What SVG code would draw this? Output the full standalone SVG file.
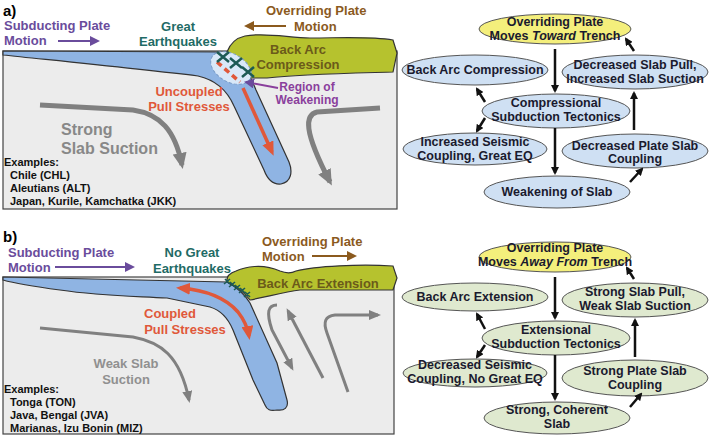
<svg xmlns="http://www.w3.org/2000/svg" width="709" height="437" viewBox="0 0 709 437">
<defs>
<style>
text{font-family:"Liberation Sans",Arial,sans-serif;font-weight:bold}
.fc{font-size:12.5px;fill:#1a1a2e;text-anchor:middle}
.box{fill:#ececec;stroke:#444;stroke-width:1.2}
.slab{fill:#8fb4e3;stroke:#333;stroke-width:1.2}
.over{fill:#b6c22e;stroke:#333;stroke-width:1.2}
.eb{fill:#cfe0f3;stroke:#555;stroke-width:1}
.eg{fill:#dfe9cf;stroke:#555;stroke-width:1}
.ey{fill:#f4ef7c;stroke:#555;stroke-width:1}
.fa{stroke:#111;stroke-width:2.5;fill:none;marker-end:url(#ak)}
.pur{fill:#6a4c9c;font-size:13px}
.teal{fill:#1f6b66;font-size:13px;text-anchor:middle}
.brn{fill:#8b5a1e;font-size:13px}
.olv{fill:#6b5a1a;font-size:13px;text-anchor:middle}
.red{fill:#e0583a;font-size:13px;text-anchor:middle}
.ex{fill:#111;font-size:11px}
.x{stroke:#1d5a55;stroke-width:2.5}
</style>
<marker id="ak" markerWidth="8" markerHeight="8" refX="6" refY="4" orient="auto" markerUnits="userSpaceOnUse"><path d="M0,0 L8,4 L0,8 Z" fill="#111"/></marker>
<marker id="ap" markerWidth="10" markerHeight="10" refX="8" refY="5" orient="auto" markerUnits="userSpaceOnUse"><path d="M0,0 L10,5 L0,10 Z" fill="#6a4c9c"/></marker>
<marker id="ab" markerWidth="10" markerHeight="10" refX="8" refY="5" orient="auto" markerUnits="userSpaceOnUse"><path d="M0,0 L10,5 L0,10 Z" fill="#8b5a1e"/></marker>
<marker id="ar" markerWidth="14" markerHeight="12" refX="10" refY="6" orient="auto" markerUnits="userSpaceOnUse"><path d="M0,0 L14,6 L0,12 Z" fill="#e0583a"/></marker>
<marker id="ars" markerWidth="14" markerHeight="12" refX="4" refY="6" orient="auto" markerUnits="userSpaceOnUse"><path d="M14,0 L0,6 L14,12 Z" fill="#e0583a"/></marker>
<marker id="ag" markerWidth="16" markerHeight="14" refX="12" refY="7" orient="auto" markerUnits="userSpaceOnUse"><path d="M0,0 L16,7 L0,14 Z" fill="#808080"/></marker>
<marker id="ag2" markerWidth="12" markerHeight="10" refX="9" refY="5" orient="auto" markerUnits="userSpaceOnUse"><path d="M0,0 L12,5 L0,10 Z" fill="#808080"/></marker>
</defs>

<g id="panel-a">
<rect class="box" x="3" y="51" width="394" height="158"/>
<path class="slab" d="M3,51 L227,52 C240,60 249,72 256,90 L289,162 C293,172 291,182 281,184 C272,185 267,178 264,170 L234,106 C227,90 216,80 198,76 C140,69 60,61 3,55 Z"/>
<path class="over" d="M227,52 C230,44 236,38 245,36 C265,32 290,38 310,38 C340,38 370,36 393,40 L397,53 L393,72 C360,73 300,74 267,78 L250,78 C245,70 238,60 227,52 Z"/>
<ellipse cx="231" cy="68" rx="22" ry="14" transform="rotate(30 231 68)" fill="#d9e8f8" stroke="#7a9cc8" stroke-dasharray="3,2"/>
<path d="M217,62 L240,82" stroke="#e0583a" stroke-width="3.5" stroke-dasharray="6,4" fill="none"/>
<path d="M243,88 L272,152" stroke="#e0583a" stroke-width="3.5" fill="none" marker-end="url(#ar)"/>
<g class="x"><path d="M217,52 L229,62 M229,52 L217,62 M230,58 L242,68 M242,58 L230,68 M242,67 L254,77 M254,67 L242,77"/></g>
<path d="M278,88 L246,82" stroke="#8a3f9c" stroke-width="1.8" fill="none" marker-end="url(#ap)"/>
<path d="M40,105 L133,110 C160,114 175,130 182,165" stroke="#808080" stroke-width="5" fill="none" marker-end="url(#ag)"/>
<path d="M380,108 L317,112 C305,115 303,130 330,182" stroke="#808080" stroke-width="5" fill="none" marker-end="url(#ag)"/>
<text x="3" y="16" font-size="15" fill="#000">a)</text>
<text class="pur" x="4" y="30">Subducting Plate</text>
<text class="pur" x="4" y="45">Motion</text>
<path d="M58,41 L98,41" stroke="#6a4c9c" stroke-width="1.8" marker-end="url(#ap)"/>
<text class="teal" x="178" y="31">Great</text>
<text class="teal" x="178" y="46">Earthquakes</text>
<text class="brn" x="266" y="15">Overriding Plate</text>
<text class="brn" x="294" y="31">Motion</text>
<path d="M286,26 L246,26" stroke="#8b5a1e" stroke-width="2" marker-end="url(#ab)"/>
<text class="olv" x="298" y="54">Back  Arc</text>
<text class="olv" x="298" y="69">Compression</text>
<text class="red" x="189" y="96">Uncoupled</text>
<text class="red" x="189" y="111">Pull Stresses</text>
<text x="307" y="91" font-size="12" fill="#8a3f9c" text-anchor="middle">Region of</text>
<text x="307" y="104" font-size="12" fill="#8a3f9c" text-anchor="middle">Weakening</text>
<text x="61" y="135" font-size="16" fill="#888">Strong</text>
<text x="61" y="154" font-size="16" fill="#888">Slab Suction</text>
<text class="ex" x="4" y="166">Examples:</text>
<text class="ex" x="10" y="179">Chile (CHL)</text>
<text class="ex" x="10" y="192">Aleutians (ALT)</text>
<text class="ex" x="10" y="205">Japan, Kurile, Kamchatka (JKK)</text>
</g>

<g id="panel-b">
<rect class="box" x="3" y="277" width="391" height="157"/>
<path class="slab" d="M3,277 L227,282 C238,288 245,295 250,303 L277,363 L287,400 C289,408 284,411 277,410 C270,411 267,410 265,405 L253,380 L233,330 C228,318 220,310 210,307 L167,298 C130,296 100,296 60,290 C30,286 10,282 3,280 Z"/>
<path class="over" d="M227,282 C226,277 230,273 236,271 C245,267 262,263 280,271 C285,273 290,274 296,271 C315,266 360,264 393,266 L397,278 L393,290 L300,290 C285,292 270,296 250,300 C244,292 236,286 227,282 Z"/>
<g stroke="#1d5a55" stroke-width="1.6"><path d="M224,284 L230,279 M225,279 L230,284 M229,287 L235,282 M230,282 L235,287 M234,290 L240,285 M235,285 L240,290 M239,293 L245,288 M240,288 L245,293 M244,297 L250,292 M245,292 L250,297"/></g>
<path d="M180,288 C205,290 225,297 238,312 C245,321 248,330 249,336" stroke="#e0583a" stroke-width="3.5" fill="none" marker-end="url(#ar)" marker-start="url(#ars)"/>
<path d="M40,328 L133,337 C160,342 180,355 189,400" stroke="#808080" stroke-width="3" fill="none" marker-end="url(#ag2)"/>
<path d="M277,305 C268,305 266,312 272,330 L292,368" stroke="#808080" stroke-width="3" fill="none" marker-end="url(#ag2)"/>
<path d="M323,378 L288,311" stroke="#808080" stroke-width="3" fill="none" marker-end="url(#ag2)"/>
<path d="M348,392 L327,333 C323,322 325,316 335,315 L378,315" stroke="#808080" stroke-width="3" fill="none" marker-end="url(#ag2)"/>
<text x="3" y="242" font-size="15" fill="#000">b)</text>
<text class="pur" x="8" y="257">Subducting Plate</text>
<text class="pur" x="8" y="272">Motion</text>
<path d="M55,267 L133,267" stroke="#6a4c9c" stroke-width="1.8" marker-end="url(#ap)"/>
<text class="teal" x="192" y="257">No Great</text>
<text class="teal" x="192" y="273">Earthquakes</text>
<text class="brn" x="262" y="246">Overriding Plate</text>
<text class="brn" x="262" y="261">Motion</text>
<path d="M312,256 L355,256" stroke="#8b5a1e" stroke-width="2" marker-end="url(#ab)"/>
<text class="olv" x="318" y="288" text-anchor="middle">Back  Arc Extension</text>
<text class="red" x="170" y="318">Coupled</text>
<text class="red" x="185" y="334">Pull Stresses</text>
<text x="126" y="368" font-size="13" fill="#909090" text-anchor="middle">Weak Slab</text>
<text x="126" y="384" font-size="13" fill="#909090" text-anchor="middle">Suction</text>
<text class="ex" x="4" y="393">Examples:</text>
<text class="ex" x="10" y="406">Tonga (TON)</text>
<text class="ex" x="10" y="419">Java, Bengal (JVA)</text>
<text class="ex" x="10" y="432">Marianas, Izu  Bonin (MIZ)</text>
</g>

<g id="flow-a">
<g id="a-n1"><ellipse class="ey" cx="555" cy="29" rx="76" ry="15"/><text class="fc" x="555" y="26">Overriding Plate</text><text class="fc" x="555" y="40">Moves <tspan font-style="italic">Toward</tspan>  Trench</text></g>
<g id="a-n2"><ellipse class="eb" cx="475" cy="70" rx="73" ry="15"/><text class="fc" x="475" y="74">Back  Arc Compression</text></g>
<g id="a-n3"><ellipse class="eb" cx="635" cy="72" rx="73" ry="17"/><text class="fc" x="635" y="69">Decreased Slab Pull,</text><text class="fc" x="635" y="83">Increased Slab Suction</text></g>
<g id="a-n4"><ellipse class="eb" cx="556" cy="111" rx="74" ry="17"/><text class="fc" x="556" y="107">Compressional</text><text class="fc" x="556" y="121">Subduction Tectonics</text></g>
<g id="a-n5"><ellipse class="eb" cx="475" cy="149" rx="72" ry="16"/><text class="fc" x="475" y="146">Increased Seismic</text><text class="fc" x="475" y="160">Coupling, Great EQ</text></g>
<g id="a-n6"><ellipse class="eb" cx="635" cy="151" rx="73" ry="17"/><text class="fc" x="635" y="150">Decreased Plate  Slab</text><text class="fc" x="635" y="163">Coupling</text></g>
<g id="a-n7"><ellipse class="eb" cx="557" cy="192" rx="73" ry="16"/><text class="fc" x="557" y="196">Weakening of Slab</text></g>
</g>

<g id="flow-b">
<g id="b-n1"><ellipse class="ey" cx="555" cy="257" rx="76" ry="15"/><text class="fc" x="555" y="252">Overriding Plate</text><text class="fc" x="555" y="266">Moves <tspan font-style="italic">Away From</tspan> Trench</text></g>
<g id="b-n2"><ellipse class="eg" cx="475" cy="297" rx="73" ry="14"/><text class="fc" x="475" y="301">Back  Arc Extension</text></g>
<g id="b-n3"><ellipse class="eg" cx="635" cy="300" rx="73" ry="17"/><text class="fc" x="635" y="296">Strong Slab Pull,</text><text class="fc" x="635" y="310">Weak Slab Suction</text></g>
<g id="b-n4"><ellipse class="eg" cx="556" cy="338" rx="74" ry="17"/><text class="fc" x="556" y="334">Extensional</text><text class="fc" x="556" y="348">Subduction Tectonics</text></g>
<g id="b-n5"><ellipse class="eg" cx="475" cy="373" rx="72" ry="14"/><text class="fc" x="475" y="369">Decreased Seismic</text><text class="fc" x="475" y="383">Coupling, No Great EQ</text></g>
<g id="b-n6"><ellipse class="eg" cx="635" cy="378" rx="73" ry="18"/><text class="fc" x="635" y="375">Strong Plate  Slab</text><text class="fc" x="635" y="389">Coupling</text></g>
<g id="b-n7"><ellipse class="eg" cx="557" cy="418" rx="73" ry="16"/><text class="fc" x="557" y="414">Strong, Coherent</text><text class="fc" x="557" y="428">Slab</text></g>
</g>

<g id="connectors">
<path class="fa" d="M555,49 L555,91"/>
<path class="fa" d="M485,102 L477,89"/>
<path class="fa" d="M485,118 L477,131"/>
<path class="fa" d="M555,128 L555,173"/>
<path class="fa" d="M630,182 L642,169"/>
<path class="fa" d="M634,130 L634,93"/>
<path class="fa" d="M634,51 L626,39"/>
<path class="fa" d="M555,277 L555,318"/>
<path class="fa" d="M485,329 L477,314"/>
<path class="fa" d="M485,345 L477,357"/>
<path class="fa" d="M555,355 L555,399"/>
<path class="fa" d="M630,407 L641,394"/>
<path class="fa" d="M635,357 L635,320"/>
<path class="fa" d="M634,279 L627,268"/>
</g>
</svg>
